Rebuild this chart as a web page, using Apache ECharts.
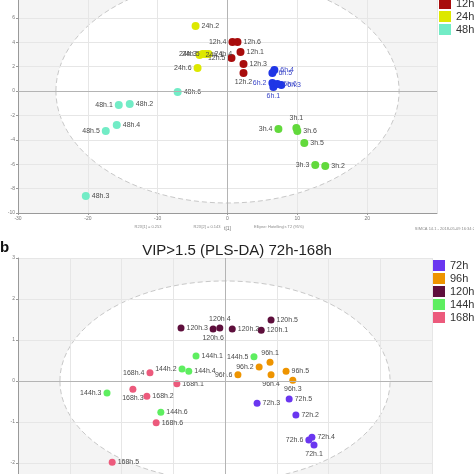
<!DOCTYPE html>
<html><head><meta charset="utf-8">
<script src="https://cdn.jsdelivr.net/npm/echarts@6/dist/echarts.min.js"></script>
<style>html,body{margin:0;padding:0;background:#fff}#c{width:474px;height:474px}</style>
</head><body><div id="c"></div>
<script>
// ---------- Panel a (top): score plot, 3h-48h ----------
const groupsA = ['3h', '6h', '12h', '24h', '48h'];
const a3hX = [9.86, 14.0, 12.57, 7.29, 11.0, 10.0];
const a3hY = [-3.03, -6.15, -6.07, -3.11, -4.26, -3.28];
const a6hX = [6.57, 6.43, 7.71, 6.71, 6.43, 7.14];
const a6hY = [0.33, 0.66, 0.49, 1.72, 1.48, 0.57];
const a12hX = [1.86, 2.29, 2.29, 0.71, 0.57, 1.43];
const a12hY = [3.20, 1.48, 2.21, 4.02, 2.70, 4.02];
const a24hX = [-4.0, -4.57, -3.57, -2.71, -3.14, -4.29];
const a24hY = [2.95, 5.33, 3.03, 3.03, 3.03, 1.89];
const a48hX = [-15.57, -14.0, -20.29, -15.86, -17.43, -7.14];
const a48hY = [-1.15, -1.07, -8.61, -2.79, -3.28, -0.08];
const xTicksA = [-30, -20, -10, 0, 10, 20, 30];
const yTicksA = [-10, -8, -6, -4, -2, 0, 2, 4, 6, 8, 10];

// ---------- Panel b (bottom): VIP>1.5 (PLS-DA) 72h-168h ----------
const groupsB = ['72h', '96h', '120h', '144h', '168h'];
const b72hX = [1.72, 1.37, 0.62, 1.68, 1.24, 1.62];
const b72hY = [-1.56, -0.83, -0.54, -1.37, -0.44, -1.44];
const b96hX = [0.87, 0.66, 1.31, 0.89, 1.18, 0.25];
const b96hY = [0.46, 0.34, 0.02, 0.15, 0.24, 0.15];
const b120hX = [0.70, 0.14, -0.85, -0.10, 0.89, -0.23];
const b120hY = [1.24, 1.27, 1.29, 1.29, 1.49, 1.27];
const b144hX = [-0.56, -0.83, -2.28, -0.70, 0.56, -1.24];
const b144hY = [0.61, 0.29, -0.29, 0.24, 0.59, -0.76];
const b168hX = [-0.93, -1.51, -1.78, -1.45, -2.18, -1.33];
const b168hY = [-0.07, -0.37, -0.20, 0.20, -1.98, -1.02];
const xTicksB = [-4, -3, -2, -1, 0, 1, 2, 3, 4];
const yTicksB = [-3, -2, -1, 0, 1, 2, 3];

// Hotelling T2 ellipse semi-axes (data units)
const ellipseA = [24.57, 9.18];
const ellipseB = [3.19, 2.44];

// ---------- styling (not data) ----------
const colorsA = {'3h': '#62d93c', '6h': '#1f36e6', '12h': '#a80c0c', '24h': '#dde800', '48h': '#72ecc6'};
const colorsB = {'72h': '#6a36f0', '96h': '#ee9400', '120h': '#5e0f3c', '144h': '#5eee60', '168h': '#ec5a7c'};
const labelPos = {
  '3h': ['top', 'right', 'left', 'left', 'right', 'right'],
  '6h': ['bottom', 'left', 'right', 'right', 'right', 'right'],
  '12h': ['right', 'bottom', 'right', 'left', 'left', 'right'],
  '24h': ['right', 'right', 'left', 'right', 'left', 'left'],
  '48h': ['left', 'right', 'right', 'right', 'left', 'right'],
  '72h': ['bottom', 'right', 'right', 'right', 'right', 'left'],
  '96h': ['top', 'left', 'bottom', 'bottom', 'right', 'left'],
  '120h': ['right', 'right', 'right', 'top', 'right', 'bottom'],
  '144h': ['right', 'left', 'left', 'right', 'left', 'right'],
  '168h': ['right', 'right', 'bottom', 'left', 'right', 'right']
};
const dataA = {'3h': [a3hX, a3hY], '6h': [a6hX, a6hY], '12h': [a12hX, a12hY], '24h': [a24hX, a24hY], '48h': [a48hX, a48hY]};
const dataB = {'72h': [b72hX, b72hY], '96h': [b96hX, b96hY], '120h': [b120hX, b120hY], '144h': [b144hX, b144hY], '168h': [b168hX, b168hY]};

const FONT = 'Liberation Sans, Arial, sans-serif';

function scatterSeries(g, xy, color, idx, size, labelColor, withZero) {
  const s = {
    type: 'scatter', name: g, xAxisIndex: idx, yAxisIndex: idx, z: 3,
    symbolSize: size,
    itemStyle: {color: color, opacity: 1},
    label: {show: true, formatter: p => p.name, fontSize: 7, color: labelColor, distance: 2, fontFamily: FONT},
    data: xy[0].map((x, i) => ({value: [x, xy[1][i]], name: g + '.' + (i + 1), label: {position: labelPos[g][i]}}))
  };
  if (withZero) {
    s.markLine = {silent: true, symbol: 'none', animation: false, label: {show: false},
      lineStyle: {color: '#b4b4b4', type: 'solid', width: 1},
      data: [{xAxis: 0}, {yAxis: 0}]};
  }
  return s;
}

function ellipseSeries(idx, axes) {
  return {
    type: 'custom', xAxisIndex: idx, yAxisIndex: idx, z: 0.5, silent: true, clip: true,
    data: [[0, 0, axes[0], axes[1]]],
    renderItem: (params, api) => {
      const c = api.coord([api.value(0), api.value(1)]);
      const s = api.size([api.value(2), api.value(3)], [0, 0]);
      return {type: 'ellipse', shape: {cx: c[0], cy: c[1], rx: s[0], ry: s[1]},
        style: {fill: '#ffffff', stroke: '#c8c8c8', lineWidth: 1, lineDash: [5, 3]}};
    }
  };
}

function axisCommon(min, max, ticks, showLabels) {
  return {
    type: 'value', min: min, max: max, interval: ticks[1] - ticks[0], z: 1,
    axisLine: {show: true, onZero: false, lineStyle: {color: '#9a9a9a', width: 1}},
    axisTick: {show: true, length: 2, lineStyle: {color: '#9a9a9a'}},
    axisLabel: {show: showLabels, fontSize: 5, color: '#777', margin: 3, fontFamily: FONT},
    splitLine: {show: true, lineStyle: {color: '#e6e6e6', width: 1}}
  };
}

const series = [ellipseSeries(0, ellipseA), ellipseSeries(1, ellipseB)];
groupsA.forEach((g, i) => series.push(scatterSeries(g, dataA[g], colorsA[g], 0, 8, g === '6h' ? '#3a46c8' : '#4a4a4a', i === 0)));
groupsB.forEach((g, i) => series.push(scatterSeries(g, dataB[g], colorsB[g], 1, 7, '#4a4a4a', i === 0)));

const xA = axisCommon(xTicksA[0], xTicksA[xTicksA.length - 1], xTicksA, true);
xA.gridIndex = 0; xA.axisLabel.showMaxLabel = false;
xA.name = 't[1]'; xA.nameLocation = 'middle'; xA.nameGap = 9; xA.nameTextStyle = {fontSize: 5, color: '#777', fontFamily: FONT};
const yA = axisCommon(yTicksA[0], yTicksA[yTicksA.length - 1], yTicksA, true); yA.gridIndex = 0;
const xB = axisCommon(xTicksB[0], xTicksB[xTicksB.length - 1], xTicksB, true); xB.gridIndex = 1;
const yB = axisCommon(yTicksB[0], yTicksB[yTicksB.length - 1], yTicksB, true); yB.gridIndex = 1;

const smallText = (x, y, t, align) => ({type: 'text', x: x, y: y, silent: true,
  style: {text: t, fontSize: 4, fill: '#8a8a8a', align: align || 'center', verticalAlign: 'middle', fontFamily: FONT}});

const chart = echarts.init(document.getElementById('c'), null, {renderer: 'canvas'});
chart.setOption({
  animation: false,
  backgroundColor: '#ffffff',
  title: {text: 'VIP>1.5 (PLS-DA) 72h-168h', left: 'center', top: 238,
    textStyle: {fontSize: 15, fontWeight: 'normal', color: '#222', fontFamily: FONT}},
  grid: [
    {left: 18, top: -31, width: 419, height: 244, show: true, backgroundColor: '#f4f4f4', borderWidth: 0, outerBoundsMode: 'none', containLabel: false},
    {left: 18, top: 258, width: 414, height: 246, show: true, backgroundColor: '#f4f4f4', borderWidth: 0, outerBoundsMode: 'none', containLabel: false}
  ],
  xAxis: [xA, xB],
  yAxis: [yA, yB],
  legend: [
    {data: groupsA, orient: 'vertical', left: 439, top: -28, padding: 0, itemWidth: 12, itemHeight: 11, itemGap: 2,
      icon: 'rect', selectedMode: false, textStyle: {fontSize: 11, color: '#333', fontFamily: FONT}},
    {data: groupsB, orient: 'vertical', left: 433, top: 260, padding: 0, itemWidth: 12, itemHeight: 11, itemGap: 2,
      icon: 'rect', selectedMode: false, textStyle: {fontSize: 11, color: '#333', fontFamily: FONT}}
  ],
  graphic: [
    {type: 'text', x: 0, y: 248, style: {text: 'b', fontSize: 15, fontWeight: 'bold', fill: '#111', verticalAlign: 'middle', fontFamily: FONT}},
    smallText(148, 227, 'R2X[1] = 0.253'),
    smallText(207, 227, 'R2X[2] = 0.143'),
    smallText(279, 227, "Ellipse: Hotelling's T2 (95%)"),
    smallText(446, 229, 'SIMCA 14.1 - 2018-05-09 16:34:22')
  ],
  series: series
});
</script>
</body></html>
